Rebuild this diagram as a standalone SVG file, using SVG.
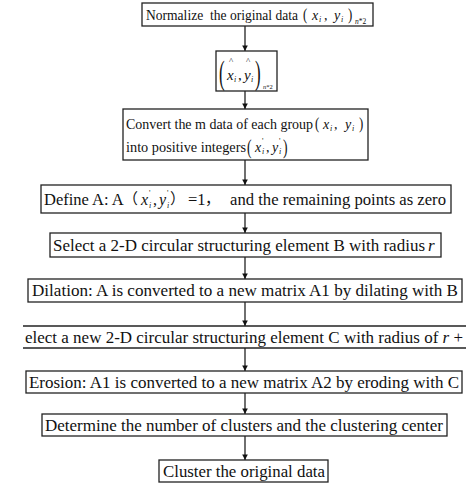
<svg xmlns="http://www.w3.org/2000/svg" width="474" height="493" viewBox="0 0 474 493">
<style>
  .box{fill:#fff;stroke:#222;stroke-width:1.3}
  .ln{stroke:#222;stroke-width:1.3;fill:none}
  .t{font-family:"Liberation Serif","Times New Roman",serif;fill:#111}
  .t14{font-size:14px}
  .t17{font-size:17px}
  .it{font-style:italic}
  .sub{font-size:8px}
  .cjk{font-family:"Noto Sans CJK SC","Liberation Serif",serif;font-size:15px;fill:#111}
</style>
<defs>
  <marker id="ah" viewBox="0 0 8 10" refX="8" refY="5" markerWidth="6" markerHeight="7" orient="auto" markerUnits="userSpaceOnUse">
    <path d="M0,1 L8,5 L0,9 z" fill="#111"/>
  </marker>
</defs>
<rect width="474" height="493" fill="#fff"/>

<g id="connectors">
  <line class="ln" x1="245" y1="26" x2="245" y2="51" marker-end="url(#ah)"/>
  <line class="ln" x1="245" y1="91" x2="245" y2="109" marker-end="url(#ah)"/>
  <line class="ln" x1="245" y1="160" x2="245" y2="185" marker-end="url(#ah)"/>
  <line class="ln" x1="245" y1="213" x2="245" y2="233" marker-end="url(#ah)"/>
  <line class="ln" x1="245" y1="257" x2="245" y2="279" marker-end="url(#ah)"/>
  <line class="ln" x1="245" y1="302" x2="245" y2="326" marker-end="url(#ah)"/>
  <line class="ln" x1="245" y1="348" x2="245" y2="371" marker-end="url(#ah)"/>
  <line class="ln" x1="245" y1="393" x2="245" y2="414" marker-end="url(#ah)"/>
  <line class="ln" x1="245" y1="436" x2="245" y2="460" marker-end="url(#ah)"/>
</g>

<g id="n1">
  <rect class="box" x="142" y="3" width="231" height="23"/>
  <text class="t t14" x="146" y="20" textLength="152" lengthAdjust="spacingAndGlyphs" xml:space="preserve">Normalize  the original data</text>
  <text class="t" x="303" y="20" font-size="17" transform="translate(303,20) scale(0.75,1) translate(-303,-20)">(</text>
  <text class="t t14 it" x="312" y="20">x</text>
  <text class="t sub it" x="319" y="22">i</text>
  <text class="t t14" x="324" y="20">,</text>
  <text class="t t14 it" x="334" y="20">y</text>
  <text class="t sub it" x="341" y="22">i</text>
  <text class="t" x="348" y="20" font-size="17" transform="translate(348,20) scale(0.75,1) translate(-348,-20)">)</text>
  <text class="t" x="355" y="24" font-size="7.5"><tspan class="it">n</tspan>*2</text>
</g>

<g id="n2">
  <rect class="box" x="216" y="51" width="61" height="40"/>
  <text class="t" x="219" y="84" font-size="34" transform="translate(219,84) scale(0.5,1) translate(-219,-84)">(</text>
  <text class="t" x="255" y="84" font-size="34" transform="translate(255,84) scale(0.5,1) translate(-255,-84)">)</text>
  <text class="t" x="229" y="64" font-size="9" fill="#666">^</text>
  <text class="t" x="246" y="64" font-size="9" fill="#666">^</text>
  <text class="t it" x="227" y="80" font-size="15">x</text>
  <text class="t sub it" x="234" y="82">i</text>
  <text class="t" x="238" y="80" font-size="15">,</text>
  <text class="t it" x="244" y="80" font-size="15">y</text>
  <text class="t sub it" x="251" y="82">i</text>
  <text class="t" x="263" y="89" font-size="6.5"><tspan class="it">n</tspan>*2</text>
</g>

<g id="n3">
  <rect class="box" x="123" y="109" width="245" height="51"/>
  <text class="t t14" x="126" y="129" textLength="187" lengthAdjust="spacingAndGlyphs">Convert the m data of each group</text>
  <text class="t" x="315" y="129" font-size="17" transform="translate(315,129) scale(0.75,1) translate(-315,-129)">(</text>
  <text class="t t14 it" x="323" y="129">x</text>
  <text class="t sub it" x="330" y="131">i</text>
  <text class="t t14" x="334" y="129">,</text>
  <text class="t t14 it" x="345" y="129">y</text>
  <text class="t sub it" x="352" y="131">i</text>
  <text class="t" x="359" y="129" font-size="17" transform="translate(359,129) scale(0.75,1) translate(-359,-129)">)</text>
  <text class="t t14" x="126" y="152" textLength="120" lengthAdjust="spacingAndGlyphs">into positive integers</text>
  <text class="t" x="247" y="154" font-size="21" transform="translate(247,154) scale(0.65,1) translate(-247,-154)">(</text>
  <text class="t t14 it" x="255" y="152">x</text>
  <text class="t sub" x="262" y="144">'</text>
  <text class="t sub it" x="262" y="154">i</text>
  <text class="t t14" x="266" y="152">,</text>
  <text class="t t14 it" x="272" y="152">y</text>
  <text class="t sub" x="279" y="144">'</text>
  <text class="t sub it" x="279" y="154">i</text>
  <text class="t" x="283" y="154" font-size="21" transform="translate(283,154) scale(0.65,1) translate(-283,-154)">)</text>
</g>

<g id="n4">
  <rect class="box" x="41" y="185" width="410" height="28"/>
  <text class="t" x="44" y="205" font-size="16.5">Define A: A</text>
  <text class="cjk" x="123" y="204">（</text>
  <text class="t it" x="141" y="205" font-size="16">x</text>
  <text class="t sub" x="149" y="196">'</text>
  <text class="t sub it" x="149" y="208">i</text>
  <text class="t" x="153" y="205" font-size="16">,</text>
  <text class="t it" x="159" y="205" font-size="16">y</text>
  <text class="t sub" x="167" y="196">'</text>
  <text class="t sub it" x="167" y="208">i</text>
  <text class="cjk" x="170" y="204">）</text>
  <text class="t" x="188" y="205" font-size="16.5">=1</text>
  <text class="cjk" x="205" y="204">，</text>
  <text class="t" x="230" y="205" font-size="16.5" textLength="216" lengthAdjust="spacingAndGlyphs">and the remaining points as zero</text>
</g>

<g id="n5">
  <rect class="box" x="50" y="233" width="391" height="24"/>
  <text class="t t17" x="53" y="251" textLength="372" lengthAdjust="spacingAndGlyphs">Select a 2-D circular structuring element B with radius</text>
  <text class="t t17 it" x="428" y="251">r</text>
</g>

<g id="n6">
  <rect class="box" x="28" y="279" width="434" height="23"/>
  <text class="t t17" x="32" y="296" textLength="426" lengthAdjust="spacingAndGlyphs">Dilation: A is converted to a new matrix A1 by dilating with B</text>
</g>

<g id="n7">
  <line class="ln" x1="23" y1="326" x2="466" y2="326"/>
  <line class="ln" x1="23" y1="348" x2="466" y2="348"/>
  <text class="t t17" x="25" y="343" textLength="438" lengthAdjust="spacingAndGlyphs">elect a new 2-D circular structuring element C with radius of <tspan class="it">r</tspan> +</text>
</g>

<g id="n8">
  <rect class="box" x="26" y="371" width="436" height="22"/>
  <text class="t t17" x="29" y="388" textLength="430" lengthAdjust="spacingAndGlyphs">Erosion: A1 is converted to a new matrix A2 by eroding with C</text>
</g>

<g id="n9">
  <rect class="box" x="42" y="414" width="405" height="22"/>
  <text class="t t17" x="45" y="431" textLength="398" lengthAdjust="spacingAndGlyphs">Determine the number of clusters and the clustering center</text>
</g>

<g id="n10">
  <rect class="box" x="159" y="460" width="169" height="22"/>
  <text class="t t17" x="163" y="477" textLength="162" lengthAdjust="spacingAndGlyphs">Cluster the original data</text>
</g>
</svg>
